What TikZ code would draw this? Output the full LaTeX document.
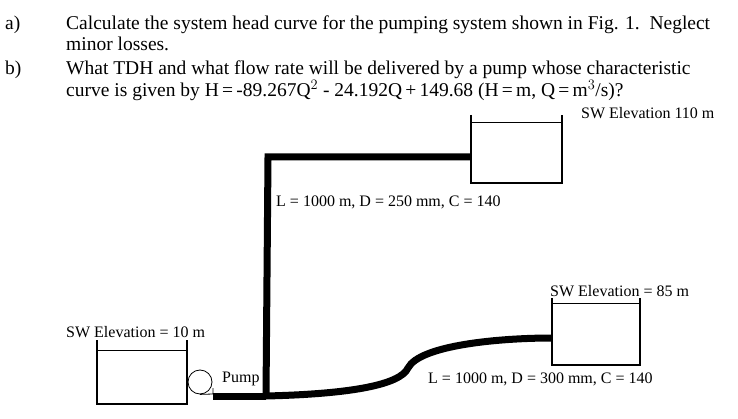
\documentclass[tikz,border=0pt]{standalone}
\usepackage{fontspec}
\setmainfont{Liberation Serif}
\begin{document}
\begin{tikzpicture}[x=1pt,y=-1pt,
  big/.style={anchor=base west,inner sep=0pt,font=\fontsize{19.5}{22}\selectfont},
  lab/.style={anchor=base west,inner sep=0pt,font=\fontsize{16}{18}\selectfont},
  pipe/.style={line width=7pt},
  tank/.style={line width=1.6pt},
  wl/.style={line width=0.8pt}]
\useasboundingbox (0,0) rectangle (738,419);
% question text
\node[big] (qa) at (5,30) {a)};
\node[big] (qa1) at (66,30) {Calculate the system head curve for the pumping system shown in Fig. 1.\ \ Neglect};
\node[big] (qa2) at (66,51) {minor losses.};
\node[big] (qb) at (5,75) {b)};
\node[big] (qb1) at (66,75) {What TDH and what flow rate will be delivered by a pump whose characteristic};
\node[big] (qb2) at (66,97) {curve is given by H\,=\,-89.267Q$^{2}$ - 24.192Q\,+\,149.68 (H\,=\,m, Q\,=\,m$^{3}$/s)?};
% top tank
\draw[tank] (471,115) -- (471,183) -- (562,183) -- (562,115);
\draw[wl] (471,122) -- (562,122);
\node[lab] (e110) at (581,119) {SW Elevation 110 m};
% right tank
\draw[tank] (552,298) -- (552,365) -- (640,365) -- (640,298);
\draw[wl] (552,303) -- (640,303);
\node[lab] (e85) at (550,297) {SW Elevation = 85 m};
% left tank
\draw[tank] (97,340) -- (97,404) -- (187,404) -- (187,340);
\draw[wl] (97,350) -- (187,350);
\node[lab] (e10) at (66,337) {SW Elevation = 10 m};
% pump
\node[draw,circle,minimum size=24pt,inner sep=0pt,line width=0.8pt] (pump) at (200,382) {};
\coordinate (pout) at (213,396);
\draw[line width=0.8pt] (pump.south) -- (213,394) -- (213,388);
\node[lab] (plab) at (222,382) {Pump};
% pipes
\coordinate (j) at (266,396);
\coordinate (c) at (268,157);
\coordinate (t1) at (471,157);
\coordinate (t2) at (552,338);
\draw[pipe] (pout) -- (j);
\draw[pipe] (j) -- (c) -- (t1);
\draw[pipe] (j) .. controls (350,394) and (400,385) .. (408,368) .. controls (420,345) and (500,338) .. (t2);
\node[lab] (l1) at (276,207) {L = 1000 m, D = 250 mm, C = 140};
\node[lab] (l2) at (428,383) {L = 1000 m, D = 300 mm, C = 140};
\end{tikzpicture}
\end{document}
